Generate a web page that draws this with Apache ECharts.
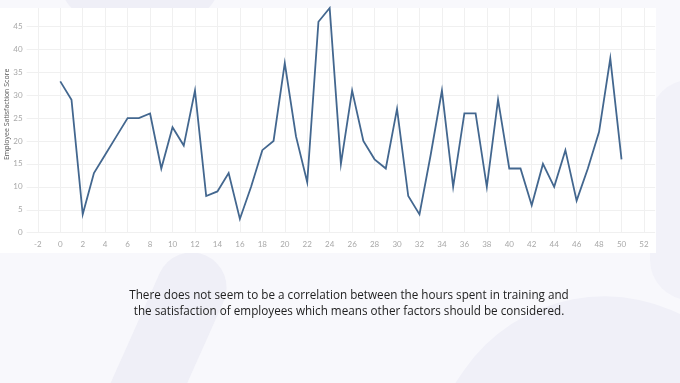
<!DOCTYPE html>
<html>
<head>
<meta charset="utf-8">
<script src="https://cdn.jsdelivr.net/npm/echarts@6/dist/echarts.min.js"></script>
<style>
html,body{margin:0;padding:0;background:#f8f8fc;}
#c{width:680px;height:383px;}
</style>
</head>
<body>
<div id="c"></div>
<script>
// Training hours (x) and employee satisfaction score (y)
const hours = [0,1,2,3,4,5,6,7,8,9,10,11,12,13,14,15,16,17,18,19,20,21,22,23,24,25,26,27,28,29,30,31,32,33,34,35,36,37,38,39,40,41,42,43,44,45,46,47,48,49,50];
const scores = [33,29,4,13,17,21,25,25,26,14,23,19,31,8,9,13,3,10,18,20,37,21,11,46,49,15,31,20,16,14,27,8,4,17,31,10,26,26,10,29,14,14,6,15,10,18,7,14,22,38,16];
const yAxisTitle = 'Employee Satisfaction Score';
const captionLines = [
  'There does not seem to be a correlation between the hours spent in training and',
  'the satisfaction of employees which means other factors should be considered.'
];

const chart = echarts.init(document.getElementById('c'), null, {renderer:'canvas'});
const data = hours.map((h,i)=>[h, scores[i]]);

chart.setOption({
  backgroundColor: '#f8f8fc',
  animation: false,
  graphic: [
    // decorative background shapes
    {type:'rect', z:-10, shape:{x:-30, y:-40, width:70, height:200, r:35}, x:185, y:290, rotation:-0.42, style:{fill:'#efeff7'}},
    {type:'rect', z:-10, shape:{x:0, y:0, width:340, height:520, r:170}, x:560, y:230, rotation:-0.6, style:{fill:'#f0f0f8'}},
    {type:'rect', z:-10, shape:{x:0, y:-60, width:160, height:80, r:40}, x:60, y:0, style:{fill:'#efeff7'}},
    {type:'rect', z:-10, shape:{x:0, y:0, width:80, height:220, r:40}, x:650, y:80, style:{fill:'#f2f2f9'}},
    // white chart panel
    {type:'rect', z:-5, shape:{x:0, y:8, width:656, height:245}, style:{fill:'#ffffff'}},
    {type:'text', z:10, x:349, y:288, style:{
      text: captionLines.join('\n'), align:'center', verticalAlign:'top',
      font: '11.7px "Open Sans", sans-serif', fill:'#222222', lineHeight:16
    }}
  ],
  grid: {left:26.6, right:24.8, top:8, bottom:150.3, containLabel:false, outerBoundsMode:'none'},
  xAxis: {
    type:'value', min:-3, max:53, interval:1,
    axisLine:{show:false}, axisTick:{show:false},
    axisLabel:{
      margin:8, color:'#a8a8a8', fontSize:8, fontFamily:'Lato, sans-serif',
      formatter: v => (Math.round(v) % 2 === 0 ? String(v) : ''),
      showMinLabel:true, showMaxLabel:true
    },
    splitLine:{show:true, lineStyle:{color:['rgba(0,0,0,0)','#f0f0f0'], width:1}}
  },
  yAxis: {
    type:'value', min:0, max:49, interval:5,
    name: yAxisTitle, nameLocation:'middle', nameGap:16, nameRotate:90, nameMoveOverlap:false,
    nameTextStyle:{fontSize:7, color:'#555555', fontFamily:'"Open Sans", sans-serif', padding:[0,0,0,12]},
    axisLine:{show:false}, axisTick:{show:false},
    axisLabel:{margin:4, color:'#a8a8a8', fontSize:8, fontFamily:'Lato, sans-serif', showMaxLabel:false},
    splitLine:{show:true, showMaxLine:false, lineStyle:{color:'#f0f0f0', width:1}}
  },
  series: [{
    type:'line', data: data, showSymbol:false, symbol:'none',
    lineStyle:{color:'#43678f', width:1.8, join:'miter'},
    clip:false
  }]
});
</script>
</body>
</html>
